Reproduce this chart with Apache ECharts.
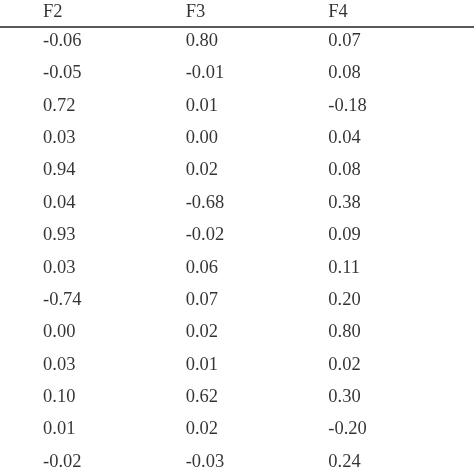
<!DOCTYPE html>
<html><head><meta charset="utf-8">
<script src="https://cdn.jsdelivr.net/npm/echarts@6/dist/echarts.min.js"></script>
<style>html,body{margin:0;padding:0;background:#fff}#c{width:474px;height:474px}</style>
</head><body><div id="c"></div>
<script>
const headers = ["F2", "F3", "F4"];
const F2 = ["-0.06","-0.05","0.72","0.03","0.94","0.04","0.93","0.03","-0.74","0.00","0.03","0.10","0.01","-0.02"];
const F3 = ["0.80","-0.01","0.01","0.00","0.02","-0.68","-0.02","0.06","0.07","0.02","0.01","0.62","0.02","-0.03"];
const F4 = ["0.07","0.08","-0.18","0.04","0.08","0.38","0.09","0.11","0.20","0.80","0.02","0.30","-0.20","0.24"];
const cols = [F2, F3, F4];
const cells = [];
cols.forEach((col, ci) => col.forEach((v, ri) => cells.push([ci, ri, v])));
const heads = headers.map((h, ci) => [ci, -0.9, h]);
const font = {fontFamily: "Liberation Serif", fontSize: 18.5, color: "#000"};
const lbl = {show: true, position: "inside", align: "left", verticalAlign: "middle",
  formatter: p => p.data[2], ...font};
const chart = echarts.init(document.getElementById("c"));
chart.setOption({
  animation: false,
  grid: {left: 43, right: 3, top: 41, bottom: 12},
  xAxis: {type: "value", min: 0, max: 3, show: false},
  yAxis: {type: "value", min: 0, max: 13, inverse: true, show: false},
  graphic: [{type: "line", shape: {x1: 0, y1: 27, x2: 474, y2: 27},
    style: {stroke: "#222", lineWidth: 1.5}}],
  series: [
    {type: "scatter", data: cells, symbolSize: 0, clip: false, label: lbl},
    {type: "scatter", data: heads, symbolSize: 0, clip: false, label: lbl}
  ]
});
</script></body></html>
